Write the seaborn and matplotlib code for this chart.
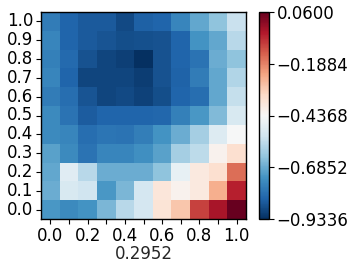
import numpy as np
import pandas as pd
import matplotlib
matplotlib.use("Agg")
import matplotlib.pyplot as plt
import seaborn as sns
from matplotlib.ticker import FuncFormatter

x_labels = ["0.0", "0.1", "0.2", "0.3", "0.4", "0.5", "0.6", "0.7", "0.8", "0.9", "1.0"]
y_labels = ["1.0", "0.9", "0.8", "0.7", "0.6", "0.5", "0.4", "0.3", "0.2", "0.1", "0.0"]

row_10 = [-0.785, -0.834, -0.854, -0.854, -0.884, -0.844, -0.834, -0.765, -0.695, -0.636, -0.546]
row_09 = [-0.765, -0.834, -0.854, -0.864, -0.879, -0.874, -0.869, -0.834, -0.735, -0.695, -0.576]
row_08 = [-0.775, -0.824, -0.869, -0.894, -0.904, -0.934, -0.869, -0.834, -0.804, -0.685, -0.636]
row_07 = [-0.765, -0.834, -0.894, -0.894, -0.894, -0.909, -0.869, -0.839, -0.785, -0.695, -0.586]
row_06 = [-0.785, -0.814, -0.864, -0.894, -0.884, -0.899, -0.879, -0.834, -0.814, -0.695, -0.556]
row_05 = [-0.755, -0.804, -0.849, -0.834, -0.834, -0.834, -0.829, -0.775, -0.725, -0.655, -0.516]
row_04 = [-0.755, -0.765, -0.814, -0.799, -0.804, -0.780, -0.735, -0.685, -0.606, -0.506, -0.437]
row_03 = [-0.705, -0.755, -0.804, -0.765, -0.765, -0.740, -0.705, -0.606, -0.566, -0.417, -0.357]
row_02 = [-0.695, -0.496, -0.576, -0.685, -0.685, -0.685, -0.636, -0.477, -0.387, -0.357, -0.159]
row_01 = [-0.685, -0.516, -0.536, -0.725, -0.665, -0.526, -0.377, -0.417, -0.387, -0.258, -0.049]
row_00 = [-0.725, -0.755, -0.735, -0.665, -0.576, -0.526, -0.367, -0.298, -0.099, -0.029, 0.060]

vmin = -0.9336
vmax = 0.0600
cbar_ticks = [-0.9336, -0.6852, -0.4368, -0.1884, 0.0600]
x_title = "0.2952"

data = pd.DataFrame([row_10, row_09, row_08, row_07, row_06, row_05,
                     row_04, row_03, row_02, row_01, row_00],
                    index=y_labels, columns=x_labels)

sns.set_style("ticks")
plt.rcParams['font.family'] = ['DejaVu Sans']

fig = plt.figure(figsize=(3.52, 2.67), dpi=100)
ax = fig.add_axes([41/352, 48/267, 205/352, 207/267])
cax = fig.add_axes([259/352, 48/267, 10/352, 207/267])

sns.heatmap(data, ax=ax, cbar_ax=cax, cmap="RdBu_r", vmin=vmin, vmax=vmax,
            square=False, cbar_kws={"ticks": cbar_ticks})

for s in ax.spines.values():
    s.set_visible(True)
    s.set_color("black")
    s.set_linewidth(1.0)

ax.set_xticks(np.arange(len(x_labels)) + 0.5)
ax.set_xticklabels([l if i % 2 == 0 else "" for i, l in enumerate(x_labels)], rotation=0)
ax.set_yticks(np.arange(len(y_labels)) + 0.5)
ax.set_yticklabels(y_labels, rotation=0)
ax.tick_params(axis="both", labelsize=12, length=3.5, width=0.8, color="black",
               labelcolor="black", pad=2)
ax.set_xlabel(x_title, fontsize=12, labelpad=0)
ax.set_ylabel("")

cbar = ax.collections[0].colorbar
cbar.outline.set_visible(True)
cbar.outline.set_linewidth(1.0)
cbar.outline.set_edgecolor("black")
cax.yaxis.set_major_formatter(FuncFormatter(lambda v, p: f"{v:.4f}".replace("-", "\u2212")))
cax.tick_params(labelsize=12, length=3.5, width=0.8, color="black", labelcolor="black", pad=2)

fig.savefig("out.png", dpi=100)
